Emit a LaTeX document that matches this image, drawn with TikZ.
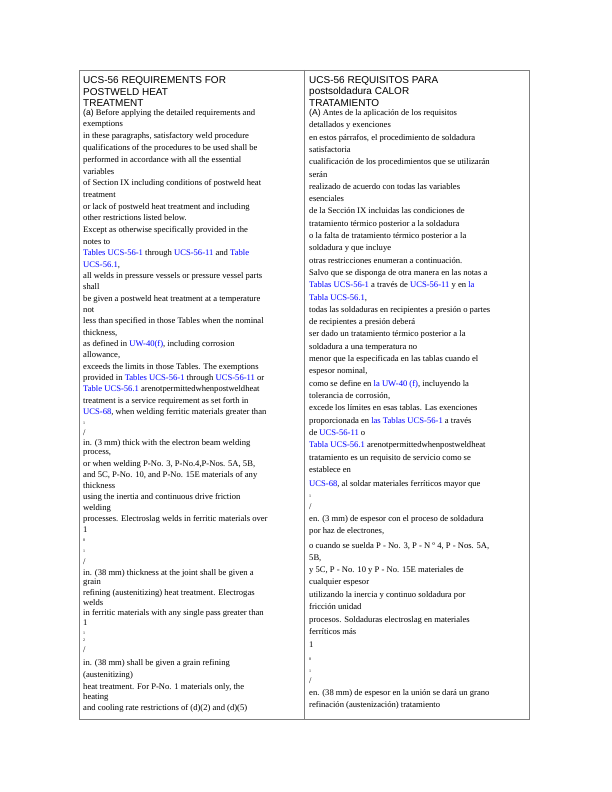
\documentclass[tikz,border=0pt]{standalone}
\usepackage{fontspec}
\setmainfont{Liberation Serif}
\newfontfamily\hd{Liberation Sans}
\definecolor{lnk}{RGB}{0,0,255}
\newcommand{\lk}[1]{\textcolor{lnk}{#1}}
\begin{document}
\begin{tikzpicture}[x=1pt,y=-1pt,
  tx/.style={anchor=west,inner sep=0pt,font=\fontsize{8.6}{9}\selectfont},
  hx/.style={anchor=west,inner sep=0pt,font=\hd\fontsize{10}{11}\selectfont},
  tiny/.style={anchor=west,inner sep=0pt,font=\fontsize{4}{4}\selectfont}]
\useasboundingbox (0,0) rectangle (612,792);
\draw[gray,line width=0.9pt] (79,70) rectangle (529,719);
\draw[gray,line width=0.9pt] (304,70) -- (304,719);
% left column
\foreach \t/\y [count=\i] in {UCS-56 REQUIREMENTS FOR/81, POSTWELD HEAT/92, TREATMENT/103}
  {\node[hx] (lh\i) at (83,\y) {\t};}
\node[tx] (l4) at (83,113) {{\hd (a)} Before applying the detailed requirements and};
\node[tx] (l5) at (83,125) {exemptions};
\node[tx] (l6) at (83,136) {in these paragraphs, satisfactory weld procedure};
\node[tx] (l7) at (83,148) {qualifications of the procedures to be used shall be};
\node[tx] (l8) at (83,160) {performed in accordance with all the essential};
\node[tx] (l9) at (83,172) {variables};
\node[tx] (l10) at (83,183) {of Section IX including conditions of postweld heat};
\node[tx] (l11) at (83,195) {treatment};
\node[tx] (l12) at (83,207) {or lack of postweld heat treatment and including};
\node[tx] (l13) at (83,218) {other restrictions listed below.};
\node[tx] (l14) at (83,230) {Except as otherwise specifically provided in the};
\node[tx] (l15) at (83,242) {notes to};
\node[tx] (l16) at (83,253) {\lk{Tables UCS-56-1} through \lk{UCS-56-11} and \lk{Table}};
\node[tx] (l17) at (83,265) {\lk{UCS-56.1},};
\node[tx] (l18) at (83,276) {all welds in pressure vessels or pressure vessel parts};
\node[tx] (l19) at (83,287) {shall};
\node[tx] (l20) at (83,299) {be given a postweld heat treatment at a temperature};
\node[tx] (l21) at (83,310) {not};
\node[tx] (l22) at (83,321) {less than specified in those Tables when the nominal};
\node[tx] (l23) at (83,333) {thickness,};
\node[tx] (l24) at (83,344) {as defined in \lk{UW-40(f)}, including corrosion};
\node[tx] (l25) at (83,355) {allowance,};
\node[tx] (l26) at (83,367) {exceeds the limits in those Tables. The exemptions};
\node[tx] (l27) at (83,378) {provided in \lk{Tables UCS-56-1} through \lk{UCS-56-11} or};
\node[tx] (l28) at (83,389) {\lk{Table UCS-56.1} arenotpermittedwhenpostweldheat};
\node[tx] (l29) at (83,401) {treatment is a service requirement as set forth in};
\node[tx] (l30) at (83,412) {\lk{UCS-68}, when welding ferritic materials greater than};
\node[tiny] (l31) at (83,423) {1};
\node[tx] (l32) at (83,433) {/};
\node[tx] (l33) at (83,443) {in. (3 mm) thick with the electron beam welding};
\node[tx] (l34) at (83,453) {process,};
\node[tx] (l35) at (83,464) {or when welding P-No. 3, P-No.4,P-Nos. 5A, 5B,};
\node[tx] (l36) at (83,475) {and 5C, P-No. 10, and P-No. 15E materials of any};
\node[tx] (l37) at (83,486) {thickness};
\node[tx] (l38) at (83,497) {using the inertia and continuous drive friction};
\node[tx] (l39) at (83,508) {welding};
\node[tx] (l40) at (83,519) {processes. Electroslag welds in ferritic materials over};
\node[tx] (l41) at (83,530) {1};
\node[tiny] (l42) at (83,540) {8};
\node[tiny] (l43) at (83,551) {1};
\node[tx] (l44) at (83,562) {/};
\node[tx] (l45) at (83,573) {in. (38 mm) thickness at the joint shall be given a};
\node[tx] (l46) at (83,583) {grain};
\node[tx] (l47) at (83,593) {refining (austenitizing) heat treatment. Electrogas};
\node[tx] (l48) at (83,603) {welds};
\node[tx] (l49) at (83,613) {in ferritic materials with any single pass greater than};
\node[tx] (l50) at (83,623) {1};
\node[tiny] (l51) at (83,633) {1};
\node[tiny] (l52) at (83,640) {2};
\node[tx] (l53) at (83,650) {/};
\node[tx] (l54) at (83,663) {in. (38 mm) shall be given a grain refining};
\node[tx] (l55) at (83,675) {(austenitizing)};
\node[tx] (l56) at (83,687) {heat treatment. For P-No. 1 materials only, the};
\node[tx] (l57) at (83,697) {heating};
\node[tx] (l58) at (83,708) {and cooling rate restrictions of (d)(2) and (d)(5)};
% right column
\foreach \t/\y [count=\i] in {UCS-56 REQUISITOS PARA/81, postsoldadura CALOR/92, TRATAMIENTO/103}
  {\node[hx] (rh\i) at (309,\y) {\t};}
\node[tx] (r4) at (309,113) {{\hd (A)} Antes de la aplicación de los requisitos};
\node[tx] (r5) at (309,125) {detallados y exenciones};
\node[tx] (r6) at (309,138) {en estos párrafos, el procedimiento de soldadura};
\node[tx] (r7) at (309,150) {satisfactoria};
\node[tx] (r8) at (309,162) {cualificación de los procedimientos que se utilizarán};
\node[tx] (r9) at (309,175) {serán};
\node[tx] (r10) at (309,187) {realizado de acuerdo con todas las variables};
\node[tx] (r11) at (309,199) {esenciales};
\node[tx] (r12) at (309,211) {de la Sección IX incluidas las condiciones de};
\node[tx] (r13) at (309,224) {tratamiento térmico posterior a la soldadura};
\node[tx] (r14) at (309,236) {o la falta de tratamiento térmico posterior a la};
\node[tx] (r15) at (309,248) {soldadura y que incluye};
\node[tx] (r16) at (309,261) {otras restricciones enumeran a continuación.};
\node[tx] (r17) at (309,273) {Salvo que se disponga de otra manera en las notas a};
\node[tx] (r18) at (309,285) {\lk{Tablas UCS-56-1} a través de \lk{UCS-56-11} y en \lk{la}};
\node[tx] (r19) at (309,298) {\lk{Tabla UCS-56.1},};
\node[tx] (r20) at (309,310) {todas las soldaduras en recipientes a presión o partes};
\node[tx] (r21) at (309,322) {de recipientes a presión deberá};
\node[tx] (r22) at (309,334) {ser dado un tratamiento térmico posterior a la};
\node[tx] (r23) at (309,347) {soldadura a una temperatura no};
\node[tx] (r24) at (309,359) {menor que la especificada en las tablas cuando el};
\node[tx] (r25) at (309,371) {espesor nominal,};
\node[tx] (r26) at (309,384) {como se define en \lk{la UW-40 (f)}, incluyendo la};
\node[tx] (r27) at (309,396) {tolerancia de corrosión,};
\node[tx] (r28) at (309,408) {excede los límites en esas tablas. Las exenciones};
\node[tx] (r29) at (309,421) {proporcionada en \lk{las Tablas UCS-56-1} a través};
\node[tx] (r30) at (309,433) {de \lk{UCS-56-11} o};
\node[tx] (r31) at (309,445) {\lk{Tabla UCS-56.1} arenotpermittedwhenpostweldheat};
\node[tx] (r32) at (309,458) {tratamiento es un requisito de servicio como se};
\node[tx] (r33) at (309,470) {establece en};
\node[tx] (r34) at (309,484) {\lk{UCS-68}, al soldar materiales ferríticos mayor que};
\node[tiny] (r35) at (309,496) {1};
\node[tx] (r36) at (309,507) {/};
\node[tx] (r37) at (309,519) {en. (3 mm) de espesor con el proceso de soldadura};
\node[tx] (r38) at (309,531) {por haz de electrones,};
\node[tx] (r39) at (309,546) {o cuando se suelda P - No. 3, P - N º 4, P - Nos. 5A,};
\node[tx] (r40) at (309,558) {5B,};
\node[tx] (r41) at (309,570) {y 5C, P - No. 10 y P - No. 15E materiales de};
\node[tx] (r42) at (309,582) {cualquier espesor};
\node[tx] (r43) at (309,595) {utilizando la inercia y continuo soldadura por};
\node[tx] (r44) at (309,607) {fricción unidad};
\node[tx] (r45) at (309,620) {procesos. Soldaduras electroslag en materiales};
\node[tx] (r46) at (309,632) {ferríticos más};
\node[tx] (r47) at (309,645) {1};
\node[tiny] (r48) at (309,659) {8};
\node[tiny] (r49) at (309,671) {1};
\node[tx] (r50) at (309,681) {/};
\node[tx] (r51) at (309,693) {en. (38 mm) de espesor en la unión se dará un grano};
\node[tx] (r52) at (309,705) {refinación (austenización) tratamiento};
\end{tikzpicture}
\end{document}
